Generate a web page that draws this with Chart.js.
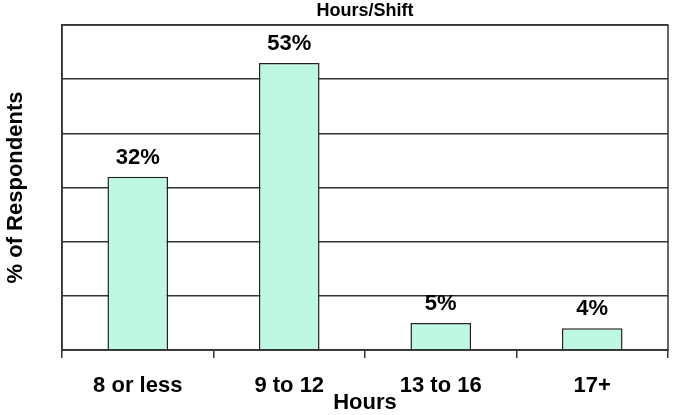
<!DOCTYPE html>
<html>
<head>
<meta charset="utf-8">
<script src="https://cdn.jsdelivr.net/npm/chart.js@4"></script>
<style>
  html, body { margin: 0; padding: 0; background: #fff; }
  #wrap { width: 675px; height: 415px; }
</style>
</head>
<body>
<div id="wrap"><canvas id="myChart" width="675" height="415"></canvas></div>
<script>
var categories = ["8 or less", "9 to 12", "13 to 16", "17+"]
var respondents = [32, 53, 5, 4]
var yTicks = [0, 10, 20, 30, 40, 50, 60]

var FONT = "'Liberation Sans', Arial, sans-serif"

// labels above bars, title over plot, box around plot
var extras = {
    id: 'extras',
    afterDatasetsDraw: function(chart){
        var ctx = chart.ctx
        var area = chart.chartArea
        ctx.save()
        ctx.strokeStyle = '#333'
        ctx.lineWidth = 1.5
        ctx.strokeRect(area.left, area.top, area.right - area.left, area.bottom - area.top)

        ctx.fillStyle = '#000'
        ctx.font = 'bold 22px ' + FONT
        ctx.textAlign = 'center'
        ctx.textBaseline = 'alphabetic'
        var meta = chart.getDatasetMeta(0)
        meta.data.forEach(function(bar, i){
            ctx.fillText(respondents[i] + '%', bar.x, bar.y - 13)
        })

        ctx.font = 'bold 18px ' + FONT
        ctx.textBaseline = 'middle'
        ctx.fillText('Hours/Shift', (area.left + area.right) / 2, 11)
        ctx.restore()
    }
}

var myChart = document.getElementById("myChart").getContext('2d')
var chart = new Chart(myChart, {
    type: 'bar',
    data: {
        labels: categories,
        datasets: [{
            label: "% of Respondents",
            data: respondents,
            backgroundColor: "#bff8e1",
            borderColor: "#222",
            borderWidth: 1.5,
            borderSkipped: 'bottom',
            categoryPercentage: 1,
            barPercentage: 0.4
        }]
    },
    options: {
        responsive: false,
        animation: false,
        layout: { padding: { top: 25, right: 7, left: 0, bottom: 0 } },
        plugins: {
            legend: { display: false },
            tooltip: { enabled: false }
        },
        scales: {
            x: {
                grid: { display: true, drawOnChartArea: false, drawTicks: true, tickLength: 8, color: '#333', lineWidth: 1.5, offset: true },
                border: { display: true, color: '#333', width: 1.5 },
                ticks: { color: '#000', font: { family: FONT, size: 22, weight: 'bold' }, padding: 15 },
                title: { display: true, text: 'Hours', color: '#000', font: { family: FONT, size: 22, weight: 'bold', lineHeight: 1.1 }, padding: { top: 0, bottom: 0 } },
                afterFit: function(s){ s.height = 65 }
            },
            y: {
                min: yTicks[0],
                max: yTicks[yTicks.length - 1],
                afterBuildTicks: function(s){ s.ticks = yTicks.map(function(v){ return { value: v } }) },
                grid: { color: '#333', lineWidth: 1.5, drawTicks: false },
                border: { display: true, color: '#333', width: 1.5 },
                ticks: { display: false },
                title: { display: true, text: '% of Respondents', color: '#000', font: { family: FONT, size: 22, weight: 'bold' }, padding: { top: 3, bottom: 0 } },
                afterFit: function(s){ s.width = 62 }
            }
        }
    },
    plugins: [extras]
})
</script>
</body>
</html>
